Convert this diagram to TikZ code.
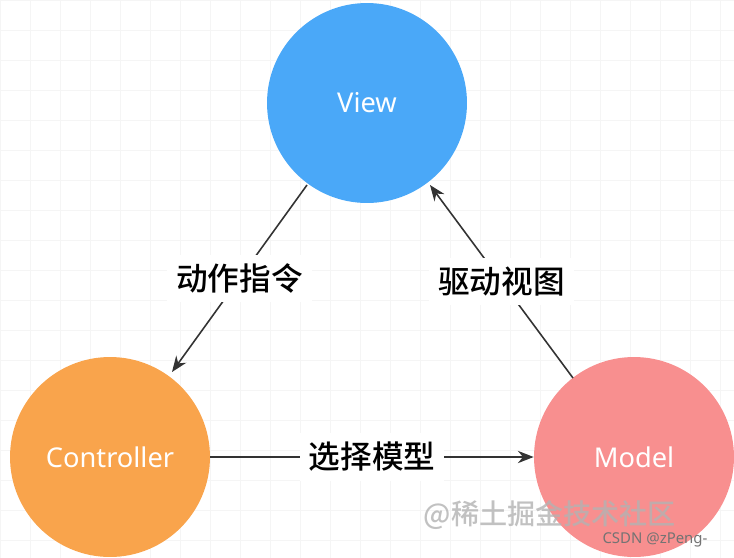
\documentclass[tikz,border=0pt]{standalone}
\usepackage{fontspec}
\setmainfont{Noto Sans}
\newfontfamily\cjk{Noto Sans CJK SC Medium}
\usetikzlibrary{arrows.meta}
\definecolor{viewc}{HTML}{4AA8F8}
\definecolor{ctrlc}{HTML}{F9A44C}
\definecolor{modelc}{HTML}{F88F8F}
\definecolor{linec}{HTML}{333333}
\tikzset{
 x=0.02cm,y=-0.02cm,
 ball/.style={circle,minimum size=4cm,inner sep=0pt,text=white,font=\fontsize{15.5}{18}\selectfont},
 conn/.style={draw=linec,line width=0.9pt,-{Stealth[length=9pt,width=7pt]}},
 lab/.style={fill=white,inner sep=5pt,font=\cjk\fontsize{18}{21}\selectfont,text=black},
}
\begin{document}
\begin{tikzpicture}
\fill[white] (0,0) rectangle (734,558);
\useasboundingbox (0,0) rectangle (734,558);
\foreach \i in {0,30,...,720} \draw[black!4,line width=0.4pt] (\i,0) -- (\i,558);
\foreach \j in {0,30,...,540} \draw[black!4,line width=0.4pt] (0,\j) -- (734,\j);
\node[ball,fill=viewc] (view) at (367,103) {View};
\node[ball,fill=ctrlc] (ctrl) at (110,457) {Controller};
\node[ball,fill=modelc] (model) at (634,457) {Model};
\coordinate (a1) at (307,185); \coordinate (a2) at (172,372);
\coordinate (b1) at (573,378); \coordinate (b2) at (430,185);
\draw[conn] (a1) -- node[lab] (l1) {动作指令} (a2);
\draw[conn] (b1) -- node[lab] (l2) {驱动视图} (b2);
\draw[conn] (ctrl) -- node[lab] (l3) {选择模型} (model);
\node[text=black!30,opacity=0.8,font=\cjk\fontsize{16}{18}\selectfont] (wm) at (550,515) {@稀土掘金技术社区};
\node[text=black!55,font=\fontsize{8.5}{10}\selectfont] (wm2) at (655,540) {CSDN @zPeng-};
\end{tikzpicture}
\end{document}
